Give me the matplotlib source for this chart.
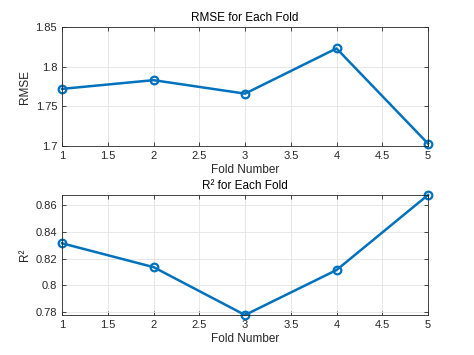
import matplotlib
matplotlib.use("Agg")
from matplotlib import pyplot as plt

plt.rcParams['font.family'] = ['Liberation Sans', 'DejaVu Sans']

folds = [1, 2, 3, 4, 5]
rmse = [1.772, 1.783, 1.766, 1.823, 1.703]
r2 = [0.8314, 0.8136, 0.7778, 0.8114, 0.8675]

line_color = '#0072BD'
text_color = '#262626'

fig = plt.figure(figsize=(4.74, 3.55), dpi=100)
ax1 = fig.add_axes([62/474, 1 - 146/355, 366/474, 119/355])
ax2 = fig.add_axes([62/474, 1 - 315/355, 366/474, 120/355])

def style(ax):
    ax.grid(True, color='#e3e3e3', linewidth=0.6)
    ax.set_axisbelow(True)
    ax.tick_params(direction='in', top=True, right=True, labelsize=8,
                   colors=text_color, length=3, width=0.6)
    for s in ax.spines.values():
        s.set_color(text_color)
        s.set_linewidth(0.6)
    ax.set_xlim(1, 5)
    ax.set_xticks([1, 1.5, 2, 2.5, 3, 3.5, 4, 4.5, 5])
    ax.set_xticklabels(['1', '1.5', '2', '2.5', '3', '3.5', '4', '4.5', '5'])

ax1.plot(folds, rmse, color=line_color, linewidth=1.8, marker='o',
         markersize=5.5, markerfacecolor='none', markeredgewidth=1.6, clip_on=False)
style(ax1)
ax1.set_ylim(1.7, 1.85)
ax1.set_yticks([1.7, 1.75, 1.8, 1.85])
ax1.set_yticklabels(['1.7', '1.75', '1.8', '1.85'])
ax1.set_xlabel('Fold Number', fontsize=8.5, color=text_color, labelpad=2)
ax1.set_ylabel('RMSE', fontsize=8.5, color=text_color, labelpad=3)
ax1.set_title('RMSE for Each Fold', fontsize=8.5, color='black', pad=4)

ax2.plot(folds, r2, color=line_color, linewidth=1.8, marker='o',
         markersize=5.5, markerfacecolor='none', markeredgewidth=1.6, clip_on=False)
style(ax2)
ax2.set_ylim(min(r2), max(r2))
ax2.set_yticks([0.78, 0.8, 0.82, 0.84, 0.86])
ax2.set_yticklabels(['0.78', '0.8', '0.82', '0.84', '0.86'])
ax2.set_xlabel('Fold Number', fontsize=8.5, color=text_color, labelpad=2)
ax2.set_ylabel('R²', fontsize=8.5, color=text_color, labelpad=3)
ax2.set_title('R² for Each Fold', fontsize=8.5, color='black', pad=4)

fig.savefig('out.png', dpi=100)
